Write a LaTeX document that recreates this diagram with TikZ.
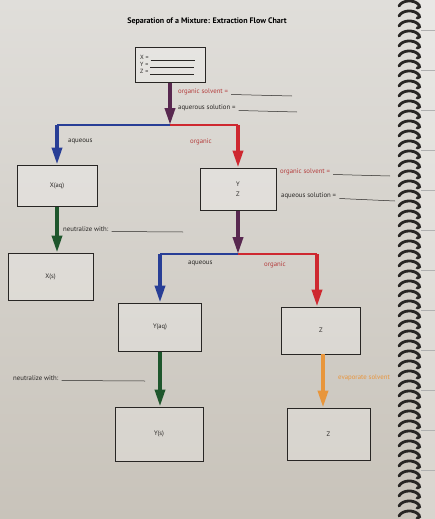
\documentclass[tikz,border=0pt]{standalone}
\usepackage{fontspec}
\setmainfont{PT Sans}
\usetikzlibrary{arrows.meta}
\definecolor{bgtop}{RGB}{224,222,218}
\definecolor{bgbot}{RGB}{200,195,186}
\definecolor{cblue}{RGB}{40,62,150}
\definecolor{cred}{RGB}{206,40,48}
\definecolor{cgreen}{RGB}{30,86,44}
\definecolor{cpurple}{RGB}{88,40,80}
\definecolor{corange}{RGB}{232,150,60}
\definecolor{cinkred}{RGB}{180,60,60}
\definecolor{ink}{RGB}{40,38,36}
\definecolor{coilc}{RGB}{40,38,36}
\newcommand{\blank}[1]{\rule[-0.5pt]{#1}{0.5pt}}
\begin{document}
\begin{tikzpicture}[x=1pt,y=-1pt,
  box/.style={draw=ink, line width=1pt, fill=white, fill opacity=0.25, text opacity=1, font=\fontsize{6.5}{7}\selectfont, text=ink},
  lbl/.style={font=\fontsize{6.8}{8}\selectfont, anchor=west, inner sep=0pt},
  arr/.style={line width=3.6pt, -{Triangle[width=10pt,length=17pt]}},
  split/.style={line width=1.3pt},
  coil/.style={line width=2.8pt, coilc, line cap=round}
]
\useasboundingbox (0,0) rectangle (435,519);
\shade[top color=bgtop, bottom color=bgbot] (0,0) rectangle (435,519);
\fill[white, opacity=0.3] (420,0) rectangle (435,519);
\foreach \yy in {30,70,110,150,190,230,270,310,350,390,430,470}
  \draw[gray!60, line width=0.5pt] (421,\yy) -- (435,\yy);
\foreach \yy in {4,14,...,515}
  \draw[coil] (399,\yy+2) .. controls (402,\yy-4) and (414,\yy-5) .. (419,\yy+1) .. controls (420,\yy+3) .. (417,\yy+4);

% title
\node[font=\fontsize{8}{9}\bfseries\selectfont, text=black] (title) at (207,21) {Separation of a Mixture: Extraction Flow Chart};

% top box
\node[box, minimum width=70pt, minimum height=34pt, text width=60pt, align=left, inner sep=2pt, font=\fontsize{6}{7}\selectfont] (mix) at (170,65)
  {X = \blank{44pt}\\ Y = \blank{44pt}\\ Z = \blank{44pt}};

% split 1
\coordinate (s1L) at (57,125);
\coordinate (s1M) at (170,125);
\coordinate (s1R) at (238,125);
\draw[arr, cpurple] (mix.south) -- (s1M);
\draw[split, cblue] (s1L) -- (s1M);
\draw[split, cred] (s1M) -- (s1R);

\node[lbl, text=cinkred] (os1) at (178,92) {organic solvent =};
\coordinate (os1e) at (292,96);
\draw[ink, line width=0.5pt] ([xshift=3pt,yshift=-2.5pt]os1.east) -- (os1e);
\node[lbl, text=ink] (aq1) at (178,108) {aquerous solution =};
\coordinate (aq1e) at (297,112);
\draw[ink, line width=0.5pt] ([xshift=3pt,yshift=-2.5pt]aq1.east) -- (aq1e);

% level 2
\node[box, minimum width=80pt, minimum height=41pt] (xaq) at (57,185.5) {X(aq)};
\node[box, minimum width=76pt, minimum height=42pt, align=center, font=\fontsize{6.5}{10}\selectfont] (yz) at (238,189) {Y\\Z};
\draw[arr, cblue] (s1L) -- (xaq.north);
\draw[arr, cred] (s1R) -- (yz.north);
\node[lbl, text=ink] (aqlab1) at (68,141) {aqueous};
\node[lbl, text=cinkred] (orglab1) at (190,142) {organic};

\node[lbl, text=cinkred] (os2) at (280,172) {organic solvent =};
\coordinate (os2e) at (390,176);
\draw[ink, line width=0.5pt] ([xshift=3pt,yshift=-2.5pt]os2.east) -- (os2e);
\node[lbl, text=ink] (aq2) at (281,196) {aqueous solution =};
\coordinate (aq2e) at (395,201);
\draw[ink, line width=0.5pt] ([xshift=3pt,yshift=-2.5pt]aq2.east) -- (aq2e);

% level 3
\node[box, minimum width=85pt, minimum height=47pt] (xs) at (50.5,276.5) {X(s)};
\draw[arr, cgreen] (xaq.south) -- (xaq.south |- xs.north);
\node[lbl, text=ink] (neu1) at (63,229) {neutralize with:};
\coordinate (neu1e) at (183,232);
\draw[ink, line width=0.5pt] ([xshift=3pt,yshift=-2.5pt]neu1.east) -- (neu1e);

\coordinate (s2L) at (160,254);
\coordinate (s2M) at (238,254);
\coordinate (s2R) at (317,254);
\draw[arr, cpurple] (yz.south) -- (s2M);
\draw[split, cblue] (s2L) -- (s2M);
\draw[split, cred] (s2M) -- (s2R);
\node[lbl, text=ink] (aqlab2) at (188,263) {aqueous};
\node[lbl, text=cinkred] (orglab2) at (264,265) {organic};

% level 4
\node[box, minimum width=83pt, minimum height=48pt] (yaq) at (160,327) {Y(aq)};
\node[box, minimum width=79pt, minimum height=47pt] (z1) at (321,330.5) {Z};
\draw[arr, cblue] (s2L) -- (yaq.north);
\draw[arr, cred] (s2R) -- (s2R |- z1.north);

\node[lbl, text=ink] (neu2) at (13,378) {neutralize with:};
\coordinate (neu2e) at (145,381);
\draw[ink, line width=0.5pt] ([xshift=3pt,yshift=-2.5pt]neu2.east) -- (neu2e);
\node[lbl, text=corange] (evap) at (338,378) {evaporate solvent};

% level 5
\node[box, minimum width=88pt, minimum height=54pt] (ys) at (159,434) {Y(s)};
\node[box, minimum width=83pt, minimum height=52pt] (z2) at (328.5,434) {Z};
\draw[arr, cgreen] (yaq.south) -- (yaq.south |- ys.north);
\coordinate (zt) at (323,354);
\draw[arr, corange] (zt) -- (zt |- z2.north);
\end{tikzpicture}
\end{document}
